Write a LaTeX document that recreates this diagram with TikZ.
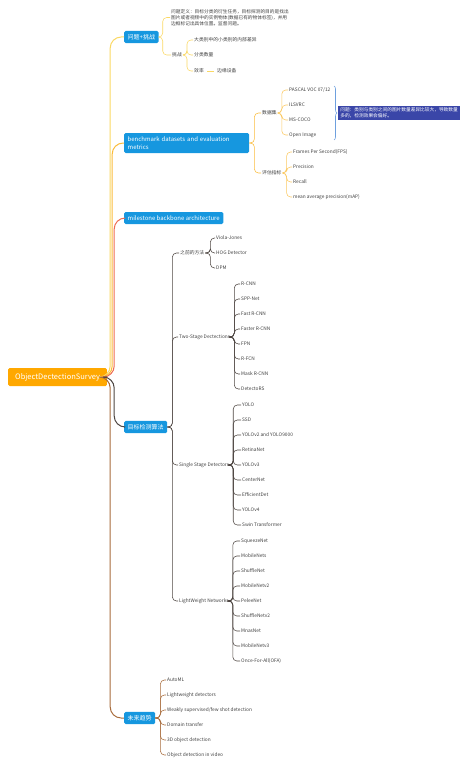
\documentclass[tikz,border=0pt]{standalone}
\usepackage{fontspec}
\setmainfont{Noto Sans CJK SC}
\usetikzlibrary{positioning,decorations.pathreplacing}

\definecolor{rootorange}{RGB}{255,168,0}
\definecolor{topicblue}{RGB}{22,151,223}
\definecolor{noteblue}{RGB}{58,70,168}
\definecolor{bracecol}{RGB}{110,160,222}
\definecolor{lnyellow}{RGB}{250,216,100}
\definecolor{lnorange}{RGB}{250,188,60}
\definecolor{lnred}{RGB}{238,108,82}
\definecolor{lndark}{RGB}{78,70,66}
\definecolor{lnbrown}{RGB}{168,108,60}

\begin{document}
\begin{tikzpicture}[
  x=1pt, y=-1pt,
  root/.style={fill=rootorange, text=white, rounded corners=1.5pt, anchor=west,
               font=\fontsize{7.5}{9}\selectfont, inner xsep=7pt, minimum height=18pt},
  topic/.style={fill=topicblue, text=white, rounded corners=1.5pt, anchor=west,
                font=\fontsize{6}{7.5}\selectfont, inner xsep=3.5pt, minimum height=12pt},
  leaf/.style={anchor=west, inner sep=1pt, text=black!75, font=\fontsize{4.8}{6}\selectfont},
  para/.style={leaf, align=left, font=\fontsize{4.7}{5.9}\selectfont},
  note/.style={fill=noteblue, text=white, anchor=west, align=left, inner sep=2pt,
               font=\fontsize{4.7}{5.8}\selectfont},
  link/.style={rounded corners=4pt, line width=0.55pt},
  trunk/.style={rounded corners=11pt, line width=1pt}
]
\useasboundingbox (0,0) rectangle (474,768);
% ----- root and main topics -----
\node[root]  (root)  at (8,377)   {ObjectDectectionSurvey};
\node[topic] (prob)  at (124,37)  {问题+挑战};
\node[topic, text width=118pt, align=left, minimum height=20pt] (bench) at (124,143)
  {benchmark datasets and evaluation\\metrics};
\node[topic] (mile)  at (124,218)  {milestone backbone architecture};
\node[topic] (algo)  at (124,427)  {目标检测算法};
\node[topic] (trend) at (124,718)  {未来趋势};
% ----- trunk, one colour per topic -----
\draw[trunk, lnyellow] (root.east) -- ++(3,0) |- (prob.west);
\draw[trunk, lnorange] (root.east) -- ++(5,0) |- (bench.west);
\draw[trunk, lnred]    (root.east) -- ++(7,0) |- (mile.west);
\draw[trunk, lnbrown]  (root.east) -- ++(3,0) |- (trend.west);
\draw[trunk, lndark]   (root.east) -- ++(7,0) |- (algo.west);
% ----- 问题+挑战 -----
\node[para] (defn) at (170,17.5)
  {问题定义：目标分类的衍生任务，目标探测的目的是找出\\
   图片或者视频中的实例物体(数据已有的物体标签)，并用\\
   边框标记出具体位置。监督问题。};
\node[leaf] (chal) at (171,55) {挑战};
\foreach \b in {defn, chal}{\draw[link, lnyellow] (prob.east) -- ++(4,0) |- (\b.west);}
\node[leaf] (diff) at (193,40) {大类别中的小类别的内部差异};
\node[leaf] (num)  at (193,55) {分类数量};
\node[leaf] (eff)  at (193,71) {效率};
\node[leaf] (edge) at (216,71) {边缘设备};
\foreach \b in {diff, num, eff}{\draw[link, lnyellow] (chal.east) -- ++(4,0) |- (\b.west);}
\draw[link, lnyellow] ([xshift=2pt]eff.east) -- ([xshift=-2pt]edge.west);
% ----- datasets and metrics -----
\node[leaf] (data)   at (261,113) {数据集};
\node[leaf] (metric) at (261,173) {评估指标};
\foreach \b in {data, metric}{\draw[link, lnorange] (bench.east) -- ++(5,0) |- (\b.west);}
\foreach \t [count=\i] in {PASCAL VOC 07/12, ILSVRC, MS-COCO, Open Image}{
  \node[leaf] (ds\i) at (288,{90+15*(\i-1)}) {\t};
  \draw[link, lnorange!80] (data.east) -- ++(4,0) |- (ds\i.west);
}
\foreach \t [count=\i] in {Frames Per Second(FPS), Precision, Recall, mean average precision(mAP)}{
  \node[leaf] (ev\i) at (292,{152+15*(\i-1)}) {\t};
  \draw[link, lnorange!80] (metric.east) -- ++(4,0) |- (ev\i.west);
}
\coordinate (bt) at (334,86);
\coordinate (bb) at (334,140);
\draw[bracecol, line width=0.6pt, decorate, decoration={brace, amplitude=3pt}]
  (bt) -- (bb) node[midway, right=4pt, note] (gap)
  {问题：类别与类别之间的图片数量差异比较大，导致数量\\多的，检测效果会偏好。};
% ----- detection algorithms -----
\node[leaf] (prev)   at (179,253) {之前的方法};
\node[leaf] (two)    at (178,337) {Two-Stage Dectections};
\node[leaf] (single) at (178,465) {Single Stage Detectors};
\node[leaf] (light)  at (178,601) {LightWeight Networks};
\foreach \b in {prev, two, single, light}{\draw[link, lndark] (algo.east) -- ++(5,0) |- (\b.west);}
\foreach \t [count=\i] in {Viola-Jones, HOG Detector, DPM}{
  \node[leaf] (pm\i) at (215,{238+15*(\i-1)}) {\t};
  \draw[link, lndark] (prev.east) -- ++(5,0) |- (pm\i.west);
}
\foreach \t [count=\i] in {R-CNN, SPP-Net, Fast R-CNN, Faster R-CNN, FPN, R-FCN, Mask R-CNN, DetectoRS}{
  \node[leaf] (ts\i) at (240,{284+15*(\i-1)}) {\t};
  \draw[link, lndark] (two.east) -- ++(3,0) |- (ts\i.west);
}
\foreach \t [count=\i] in {YOLO, SSD, YOLOv2 and YOLO9000, RetinaNet, YOLOv3, CenterNet, EfficientDet, YOLOv4, Swin Transformer}{
  \node[leaf] (ss\i) at (241,{405+15*(\i-1)}) {\t};
  \draw[link, lndark] (single.east) -- ++(3,0) |- (ss\i.west);
}
\foreach \t [count=\i] in {SqueezeNet, MobileNets, ShuffleNet, MobileNetv2, PeleeNet, ShuffleNetv2, MnasNet, MobileNetv3, Once-For-All(OFA)}{
  \node[leaf] (lw\i) at (240,{541+15*(\i-1)}) {\t};
  \draw[link, lndark] (light.east) -- ++(3,0) |- (lw\i.west);
}
% ----- future trends -----
\foreach \t [count=\i] in {AutoML, Lightweight detectors, Weakly supervised/few shot detection,
                           Domain transfer, 3D object detection, Object detection in video}{
  \node[leaf] (ft\i) at (166,{680+15*(\i-1)}) {\t};
  \draw[link, lnbrown] (trend.east) -- ++(5,0) |- (ft\i.west);
}
\end{tikzpicture}
\end{document}
